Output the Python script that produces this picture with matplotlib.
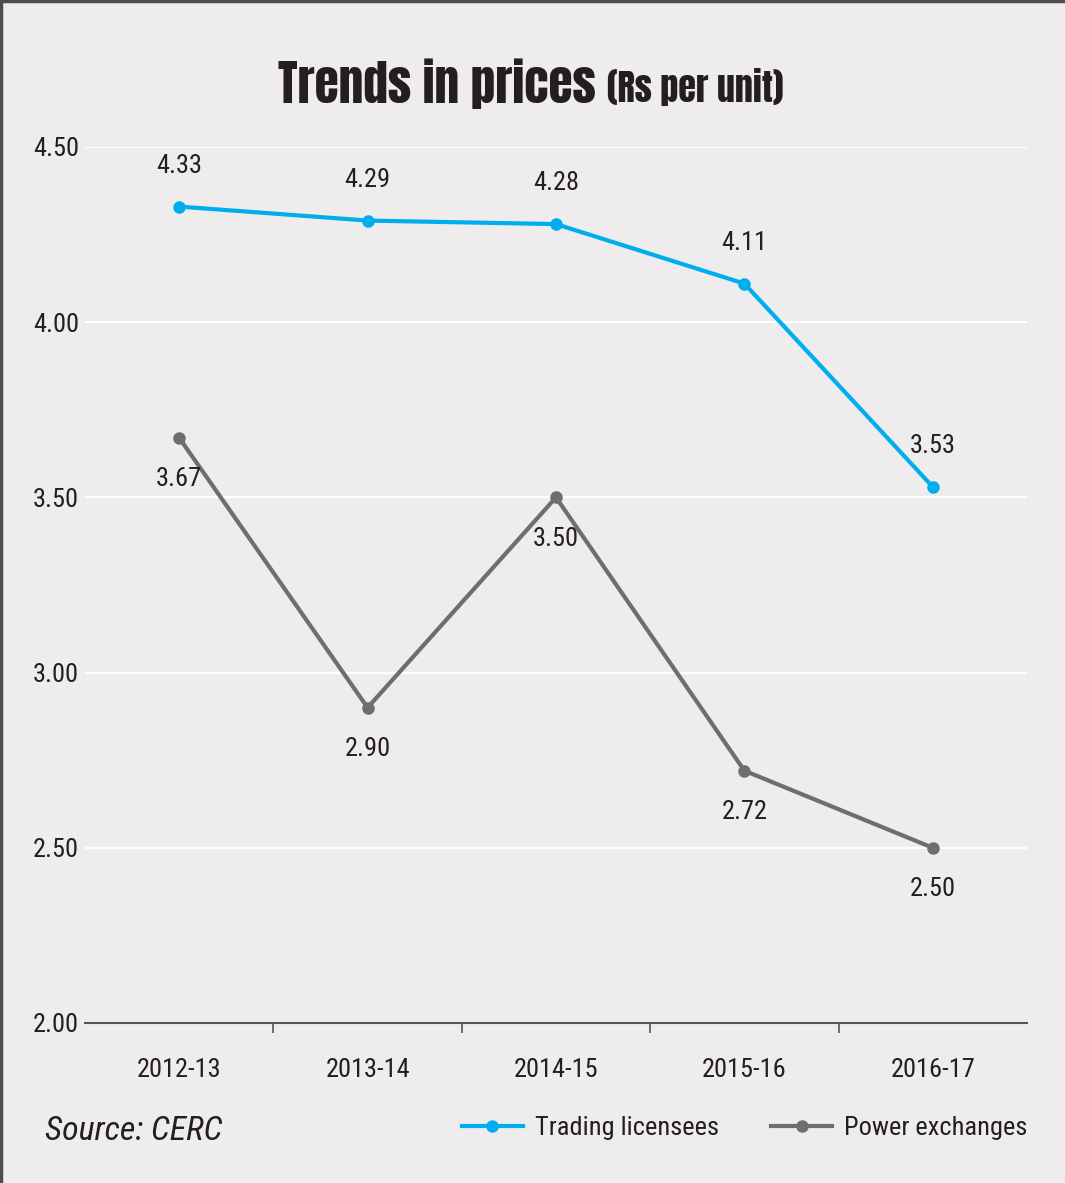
import matplotlib
matplotlib.use('Agg')
import matplotlib.pyplot as plt
from matplotlib.lines import Line2D

body_font = ['Roboto Condensed', 'PT Sans Narrow', 'Liberation Sans', 'DejaVu Sans']
head_font = ['Anton', 'Oswald', 'Liberation Sans', 'DejaVu Sans']
plt.rcParams['font.family'] = body_font

years = ['2012-13', '2013-14', '2014-15', '2015-16', '2016-17']
trading = [4.33, 4.29, 4.28, 4.11, 3.53]
power = [3.67, 2.90, 3.50, 2.72, 2.50]
yticks = [2.00, 2.50, 3.00, 3.50, 4.00, 4.50]

bg = '#eeeced'
blue = '#00aeef'
grey = '#6d6e71'
txt = '#231f20'

fig = plt.figure(figsize=(10.65, 11.83), dpi=100, facecolor=bg)
ax = fig.add_axes([85/1065, 1 - 1023/1183, (1027-85)/1065, (1023-147)/1183])
ax.set_facecolor(bg)

x = list(range(len(years)))
ax.plot(x, trading, color=blue, lw=3, marker='o', ms=8, label='Trading licensees', zorder=3)
ax.plot(x, power, color=grey, lw=3, marker='o', ms=8, label='Power exchanges', zorder=3)

for i, v in enumerate(trading):
    ax.annotate(f'{v:.2f}', (i, v), xytext=(0, 29.5), textcoords='offset points',
                ha='center', va='center', fontsize=19, color=txt)
for i, v in enumerate(power):
    ax.annotate(f'{v:.2f}', (i, v), xytext=(0, -30), textcoords='offset points',
                ha='center', va='center', fontsize=19, color=txt)

ax.set_xlim(-0.5, 4.5)
ax.set_ylim(2.0, 4.5)
ax.set_yticks(yticks)
ax.set_yticklabels([f'{t:.2f}' for t in yticks], fontsize=19, color=txt)
ax.yaxis.grid(True, color='white', lw=1.6)
ax.set_axisbelow(True)
ax.tick_params(axis='y', length=0, pad=4.5)

# category labels centred, tick marks between categories
ax.set_xticks([i + 0.5 for i in range(len(years) - 1)])
ax.set_xticklabels([])
ax.set_xticks(x, minor=True)
ax.set_xticklabels(years, minor=True, fontsize=19, color=txt)
ax.tick_params(axis='x', which='major', length=7, width=1.2, color='#555555', direction='out')
ax.tick_params(axis='x', which='minor', length=0, pad=25.5)

for s in ['top', 'right', 'left']:
    ax.spines[s].set_visible(False)
ax.spines['bottom'].set_color('#555555')
ax.spines['bottom'].set_linewidth(1.5)

fig.text(278/1065, 1 - 103/1183, 'Trends in prices', ha='left', va='baseline',
         fontsize=35.5, family=head_font, color=txt)
fig.text(607/1065, 1 - 102/1183, '(Rs per unit)', ha='left', va='baseline',
         fontsize=26, family=head_font, color=txt)

fig.text(45/1065, 1 - 1131/1183, 'Source: CERC', ha='left', va='center',
         fontsize=24.5, style='italic', color=txt)

leg = fig.legend(loc='center right', bbox_to_anchor=(1051/1065, 1 - 1128/1183),
                 ncol=2, frameon=False, fontsize=19, handlelength=2.3,
                 columnspacing=2.0, handletextpad=0.45, labelcolor=txt)

# border on top and left
fig.add_artist(Line2D([0, 1], [1 - 1/1183, 1 - 1/1183], transform=fig.transFigure, color='#4d4d4d', lw=2.5))
fig.add_artist(Line2D([1/1065, 1/1065], [0, 1], transform=fig.transFigure, color='#4d4d4d', lw=2.5))

fig.savefig('out.png', dpi=100, facecolor=bg)
